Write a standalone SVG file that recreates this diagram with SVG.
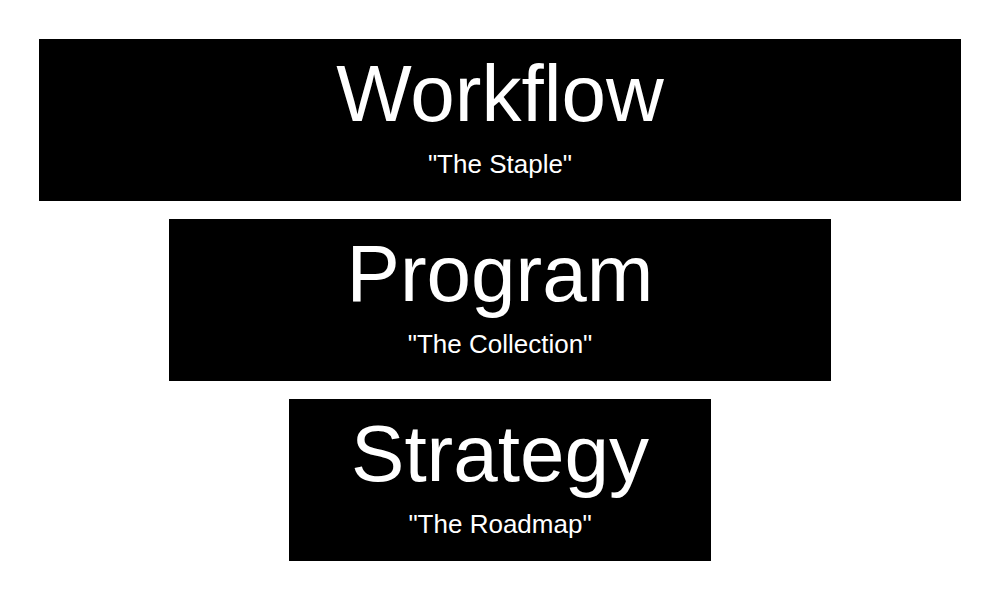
<svg xmlns="http://www.w3.org/2000/svg" width="1000" height="600" viewBox="0 0 1000 600">
<style>
.box{fill:#000}
.title{font-family:"Liberation Sans",Arial,sans-serif;font-size:80px;fill:#fff;text-anchor:middle}
.sub{font-family:"Liberation Sans",Arial,sans-serif;font-size:26px;fill:#fff;text-anchor:middle}
</style>
<rect width="1000" height="600" fill="#fff"/>
<g id="workflow">
<rect class="box" x="39" y="39" width="922" height="162"/>
<text class="title" x="500" y="121">Workflow</text>
<text class="sub" x="500" y="173">"The Staple"</text>
</g>
<g id="program">
<rect class="box" x="169" y="219" width="662" height="162"/>
<text class="title" x="500" y="301">Program</text>
<text class="sub" x="500" y="353">"The Collection"</text>
</g>
<g id="strategy">
<rect class="box" x="289" y="399" width="422" height="162"/>
<text class="title" x="500" y="481">Strategy</text>
<text class="sub" x="500" y="533">"The Roadmap"</text>
</g>
<g id="connectors"></g>
</svg>
